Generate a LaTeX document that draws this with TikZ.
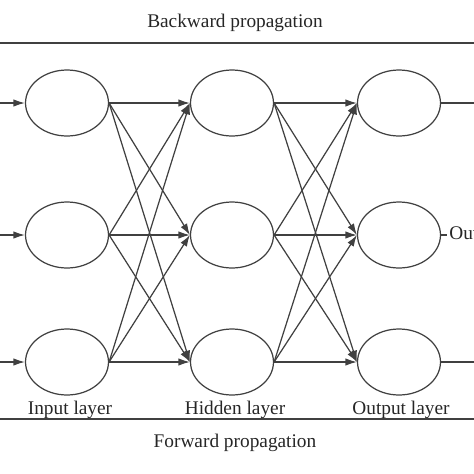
\documentclass[tikz,border=0pt]{standalone}
\usepackage{fontspec}
\setmainfont{Liberation Serif}
\usetikzlibrary{shapes,arrows.meta,positioning,calc}

\tikzset{
  neuron/.style={draw=black!75, line width=0.7pt, ellipse, minimum width=1.66cm, minimum height=1.32cm, inner sep=0pt},
  wire/.style={draw=black!75, line width=0.7pt},
  feed/.style={wire, -{Latex[length=6.5pt,width=4.2pt]}},
  lbl/.style={font=\fontsize{11}{13}\selectfont, text=black!85, inner sep=0pt}
}

\begin{document}
\begin{tikzpicture}[x=0.02cm, y=-0.02cm]
\useasboundingbox (0,0) rectangle (474,474);
\clip (0,0) rectangle (474,474);

% neurons
\node[neuron] (i1) at (67,103) {};
\node[neuron] (i2) at (67,235) {};
\node[neuron] (i3) at (67,362) {};
\node[neuron] (h1) at (232,103) {};
\node[neuron] (h2) at (232,235) {};
\node[neuron] (h3) at (232,362) {};
\node[neuron] (o1) at (399,103) {};
\node[neuron] (o2) at (399,235) {};
\node[neuron] (o3) at (399,362) {};

% inputs and outputs
\coordinate (in1) at (0,103);
\coordinate (in2) at (0,235);
\coordinate (in3) at (0,362);
\coordinate (out1) at (474,103);
\coordinate (out3) at (474,362);
\node[lbl, anchor=west] (outtxt) at (449,235) {Output};

\foreach \r in {1,2,3} {
  \draw[feed] (in\r) -- (i\r.west);
}
\draw[wire] (o1.east) -- (out1);
\draw[wire] (o2.east) -- ([xshift=-1pt]outtxt.west);
\draw[wire] (o3.east) -- (out3);

% full connections
\foreach \a in {1,2,3} {
  \foreach \b in {1,2,3} {
    \draw[feed] (i\a.east) -- (h\b.west);
    \draw[feed] (h\a.east) -- (o\b.west);
  }
}

% layer names
\node[lbl] (inlay) at (70,410) {Input layer};
\node[lbl] (hidlay) at (235,410) {Hidden layer};
\node[lbl] (outlay) at (401,410) {Output layer};

% propagation bars
\coordinate (tl) at (0,43);
\coordinate (tr) at (474,43);
\coordinate (bl) at (0,419);
\coordinate (br) at (474,419);
\draw[wire] (tl) -- (tr);
\draw[wire] (bl) -- (br);
\node[lbl] (back) at (235,23) {Backward propagation};
\node[lbl] (fwd) at (235,443) {Forward propagation};
\end{tikzpicture}
\end{document}
